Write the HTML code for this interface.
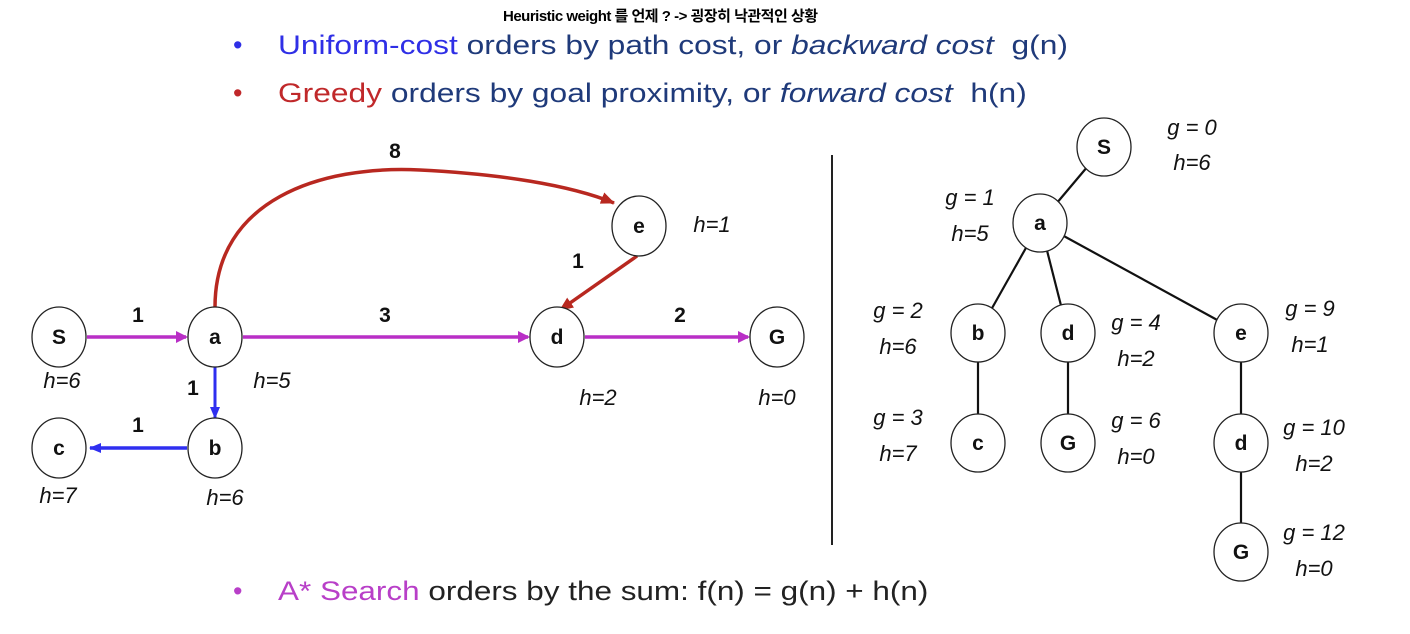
<!DOCTYPE html>
<html><head><meta charset="utf-8"><style>
html,body{margin:0;padding:0;background:#fff;}
body{width:1410px;height:634px;overflow:hidden;position:relative;font-family:"Liberation Sans",sans-serif;}
.t{position:absolute;white-space:nowrap;}
.b{font-size:27px;color:#1f3a7a;font-family:"Liberation Sans",sans-serif;transform-origin:0 0;transform:scaleX(1.175);}
.d{font-size:27px;}
</style></head><body>
<div class="t" style="left:503px;top:5px;font-size:15px;font-weight:bold;font-family:'Liberation Sans','Noto Sans CJK KR',sans-serif;letter-spacing:-0.5px">Heuristic weight 를 언제 ? -&gt; 굉장히 낙관적인 상황</div>
<div class="t d" style="left:233px;top:30px;color:#2f2fe6">•</div>
<div class="t b" style="left:278px;top:30px"><span style="color:#2f2fe6">Uniform-cost</span> orders by path cost, or <i>backward cost</i>&nbsp; g(n)</div>
<div class="t d" style="left:233px;top:78px;color:#c0282a">•</div>
<div class="t b" style="left:278px;top:78px"><span style="color:#c0282a">Greedy</span> orders by goal proximity, or <i>forward cost</i>&nbsp; h(n)</div>
<div class="t d" style="left:233px;top:576px;color:#b83fc8">•</div>
<div class="t b" style="left:278px;top:576px;color:#222;transform:scaleX(1.165)"><span style="color:#b83fc8">A* Search</span> orders by the sum: f(n) = g(n) + h(n)</div>
<svg width="1410" height="634" style="position:absolute;left:0;top:0" font-family="Liberation Sans,sans-serif">
<defs>
<marker id="mb" markerWidth="12" markerHeight="10" refX="11" refY="5" orient="auto" markerUnits="userSpaceOnUse"><path d="M0,0L12,5L0,10z" fill="#2f2ff0"/></marker>
<marker id="mr" markerWidth="14" markerHeight="12" refX="13" refY="6" orient="auto" markerUnits="userSpaceOnUse"><path d="M0,0L14,6L0,12z" fill="#b82820"/></marker>
</defs>
<g stroke-width="3.5" fill="none">
<line x1="87" y1="337" x2="186" y2="337" stroke="#b92fc6"/><path d="M176,331L188,337L176,343z" fill="#b92fc6" stroke="none"/>
<line x1="243" y1="337" x2="528" y2="337" stroke="#b92fc6"/><path d="M518,331L530,337L518,343z" fill="#b92fc6" stroke="none"/>
<line x1="585" y1="337" x2="748" y2="337" stroke="#b92fc6"/><path d="M738,331L750,337L738,343z" fill="#b92fc6" stroke="none"/>
<line x1="215" y1="367" x2="215" y2="418" stroke="#2f2ff0" stroke-width="3" marker-end="url(#mb)"/>
<line x1="187" y1="448" x2="90" y2="448" stroke="#2f2ff0" stroke-width="3.5" marker-end="url(#mb)"/>
<path d="M215,307 C215,200 320,165 420,170 C500,174 570,185 614,203" stroke="#b82820" stroke-width="3.5" marker-end="url(#mr)"/>
<line x1="637" y1="256" x2="560" y2="310" stroke="#b82820" stroke-width="3.5" marker-end="url(#mr)"/>
</g>
<g fill="#fff" stroke="#222" stroke-width="1.3">
<ellipse cx="59" cy="337" rx="27" ry="30"/><ellipse cx="215" cy="337" rx="27" ry="30"/>
<ellipse cx="557" cy="337" rx="27" ry="30"/><ellipse cx="777" cy="337" rx="27" ry="30"/>
<ellipse cx="639" cy="226" rx="27" ry="30"/><ellipse cx="215" cy="448" rx="27" ry="30"/>
<ellipse cx="59" cy="448" rx="27" ry="30"/>
</g>
<g font-weight="bold" font-size="21" text-anchor="middle" fill="#111">
<text x="59" y="344">S</text><text x="215" y="344">a</text><text x="557" y="344">d</text><text x="777" y="344">G</text>
<text x="639" y="233">e</text><text x="215" y="455">b</text><text x="59" y="455">c</text>
<text x="138" y="322">1</text><text x="385" y="322">3</text><text x="680" y="322">2</text>
<text x="395" y="158">8</text><text x="578" y="268">1</text><text x="193" y="395">1</text><text x="138" y="432">1</text>
</g>
<g font-style="italic" font-size="22" fill="#111" text-anchor="middle">
<text x="62" y="388">h=6</text><text x="272" y="388">h=5</text><text x="598" y="405">h=2</text><text x="777" y="405">h=0</text>
<text x="712" y="232">h=1</text><text x="58" y="503">h=7</text><text x="225" y="505">h=6</text>
</g>
<line x1="832" y1="155" x2="832" y2="545" stroke="#222" stroke-width="2"/>
<g stroke="#111" stroke-width="2.2">
<line x1="1104" y1="147" x2="1040" y2="223"/>
<line x1="1040" y1="223" x2="978" y2="333"/><line x1="1040" y1="223" x2="1068" y2="333"/><line x1="1040" y1="223" x2="1241" y2="333"/>
<line x1="978" y1="333" x2="978" y2="443"/><line x1="1068" y1="333" x2="1068" y2="443"/>
<line x1="1241" y1="333" x2="1241" y2="552"/>
</g>
<g fill="#fff" stroke="#222" stroke-width="1.3">
<ellipse cx="1104" cy="147" rx="27" ry="29"/><ellipse cx="1040" cy="223" rx="27" ry="29"/>
<ellipse cx="978" cy="333" rx="27" ry="29"/><ellipse cx="1068" cy="333" rx="27" ry="29"/><ellipse cx="1241" cy="333" rx="27" ry="29"/>
<ellipse cx="978" cy="443" rx="27" ry="29"/><ellipse cx="1068" cy="443" rx="27" ry="29"/><ellipse cx="1241" cy="443" rx="27" ry="29"/>
<ellipse cx="1241" cy="552" rx="27" ry="29"/>
</g>
<g font-weight="bold" font-size="21" text-anchor="middle" fill="#111">
<text x="1104" y="154">S</text><text x="1040" y="230">a</text><text x="978" y="340">b</text><text x="1068" y="340">d</text>
<text x="1241" y="340">e</text><text x="978" y="450">c</text><text x="1068" y="450">G</text><text x="1241" y="450">d</text><text x="1241" y="559">G</text>
</g>
<g font-style="italic" font-size="22" fill="#111" text-anchor="middle">
<text x="1192" y="135">g = 0</text><text x="1192" y="170">h=6</text>
<text x="970" y="205">g = 1</text><text x="970" y="241">h=5</text>
<text x="898" y="318">g = 2</text><text x="898" y="354">h=6</text>
<text x="1136" y="330">g = 4</text><text x="1136" y="366">h=2</text>
<text x="1310" y="316">g = 9</text><text x="1310" y="352">h=1</text>
<text x="898" y="425">g = 3</text><text x="898" y="461">h=7</text>
<text x="1136" y="428">g = 6</text><text x="1136" y="464">h=0</text>
<text x="1314" y="435">g = 10</text><text x="1314" y="471">h=2</text>
<text x="1314" y="540">g = 12</text><text x="1314" y="576">h=0</text>
</g>
</svg>
</body></html>
